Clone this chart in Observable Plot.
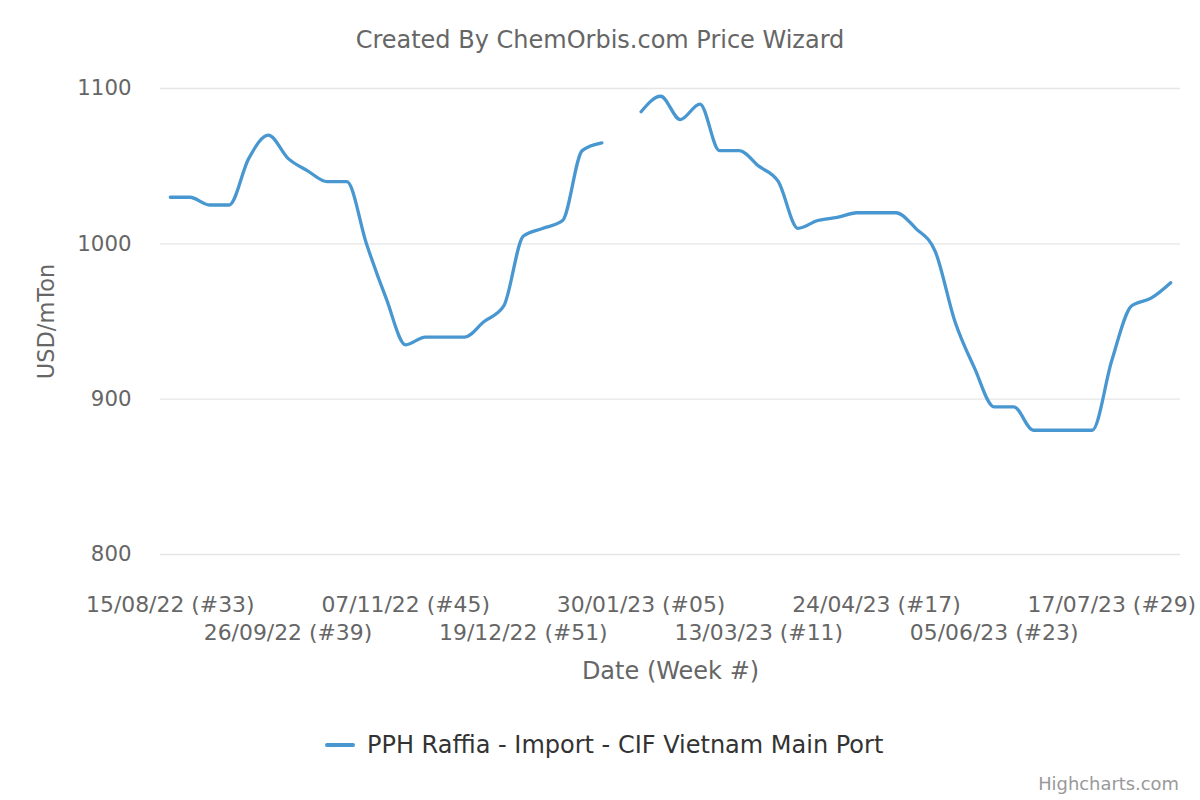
<!DOCTYPE html>
<html>
<head>
<meta charset="utf-8">
<script src="https://cdn.jsdelivr.net/npm/d3@7"></script>
<script src="https://cdn.jsdelivr.net/npm/@observablehq/plot@0.6"></script>
<style>
  html, body { margin: 0; padding: 0; background: #fff; }
  #wrap { position: relative; width: 1200px; height: 800px; font-family: "DejaVu Sans", sans-serif; overflow: hidden; }
  #title { position: absolute; left: 0; width: 1200px; top: 28px; line-height: 24px; font-size: 24px; color: #666; text-align: center; white-space: nowrap; }
  #chart { position: absolute; left: 0; top: 60px; }
  #legend { position: absolute; left: 325px; top: 733px; height: 24px; line-height: 24px; font-size: 24px; color: #333; white-space: nowrap; display: flex; align-items: center; }
  #legend .sym { display: inline-block; width: 30px; height: 4px; border-radius: 2px; background: #4897d0; margin-right: 12px; }
  #credits { position: absolute; right: 21px; top: 775px; line-height: 18px; font-size: 17.9px; color: #999; white-space: nowrap; }
</style>
</head>
<body>
<div id="wrap">
  <div id="title">Created By ChemOrbis.com Price Wizard</div>
  <div id="chart"></div>
  <div id="legend"><span class="sym"></span><span>PPH Raffia - Import - CIF Vietnam Main Port</span></div>
  <div id="credits">Highcharts.com</div>
</div>
<script>
// Weekly categories (Date (Week #))
const categories = [
  "15/08/22 (#33)", "22/08/22 (#34)", "29/08/22 (#35)", "05/09/22 (#36)", "12/09/22 (#37)", "19/09/22 (#38)",
  "26/09/22 (#39)", "03/10/22 (#40)", "10/10/22 (#41)", "17/10/22 (#42)", "24/10/22 (#43)", "31/10/22 (#44)",
  "07/11/22 (#45)", "14/11/22 (#46)", "21/11/22 (#47)", "28/11/22 (#48)", "05/12/22 (#49)", "12/12/22 (#50)",
  "19/12/22 (#51)", "26/12/22 (#52)", "02/01/23 (#01)", "09/01/23 (#02)", "16/01/23 (#03)", "23/01/23 (#04)",
  "30/01/23 (#05)", "06/02/23 (#06)", "13/02/23 (#07)", "20/02/23 (#08)", "27/02/23 (#09)", "06/03/23 (#10)",
  "13/03/23 (#11)", "20/03/23 (#12)", "27/03/23 (#13)", "03/04/23 (#14)", "10/04/23 (#15)", "17/04/23 (#16)",
  "24/04/23 (#17)", "01/05/23 (#18)", "08/05/23 (#19)", "15/05/23 (#20)", "22/05/23 (#21)", "29/05/23 (#22)",
  "05/06/23 (#23)", "12/06/23 (#24)", "19/06/23 (#25)", "26/06/23 (#26)", "03/07/23 (#27)", "10/07/23 (#28)",
  "17/07/23 (#29)", "24/07/23 (#30)", "31/07/23 (#31)", "07/08/23 (#32)"
];

// PPH Raffia - Import - CIF Vietnam Main Port (USD/mTon), null = no data
const prices = [
  1030, 1030, 1025, 1025, 1055, 1070, 1055, 1047, 1040, 1040, 1000, 965,
  935, 940, 940, 940, 950, 960, 1005, 1010, 1015, 1060, 1065, null,
  1085, 1095, 1080, 1090, 1060, 1060, 1050, 1040, 1010, 1015, 1017, 1020,
  1020, 1020, 1010, 995, 950, 920, 895, 895, 880, 880, 880, 880,
  925, 960, 965, 975
];

// Axis ticks
const yTicks = [800, 900, 1000, 1100];
const xTicksRow1 = ["15/08/22 (#33)", "07/11/22 (#45)", "30/01/23 (#05)", "24/04/23 (#17)", "17/07/23 (#29)"];
const xTicksRow2 = ["26/09/22 (#39)", "19/12/22 (#51)", "13/03/23 (#11)", "05/06/23 (#23)"];

const seriesName = "PPH Raffia - Import - CIF Vietnam Main Port";
const lineColor = "#4897d0";

const data = categories.map((c, i) => ({cat: c, price: prices[i]}));

const chart = Plot.plot({
  width: 1200,
  height: 640,
  marginTop: 28,
  marginBottom: 146,
  marginLeft: 160,
  marginRight: 20,
  style: {fontFamily: "DejaVu Sans, sans-serif", background: "white", overflow: "visible"},
  x: {type: "point", domain: categories, padding: 0.5},
  y: {domain: [800, 1100]},
  marks: [
    Plot.gridY(yTicks, {stroke: "#e6e6e6", strokeOpacity: 1, strokeWidth: 1.3}),
    Plot.axisY(yTicks, {tickSize: 0, tickPadding: 29, fontSize: 21.3, fill: "#666", label: null, tickFormat: d => String(d)}),
    Plot.axisX(xTicksRow1, {tickSize: 0, tickPadding: 42.4, fontSize: 21.9, fill: "#666", label: null}),
    Plot.axisX(xTicksRow2, {tickSize: 0, tickPadding: 70.4, fontSize: 21.9, fill: "#666", label: null}),
    Plot.line(data, {x: "cat", y: "price", stroke: lineColor, strokeWidth: 3.3, curve: "monotone-x"}),
    Plot.text(["Date (Week #)"], {frameAnchor: "bottom", lineAnchor: "middle", dy: 117, fontSize: 24, fill: "#666"}),
    Plot.text(["USD/mTon"], {frameAnchor: "left", textAnchor: "middle", lineAnchor: "middle", dx: -114, rotate: -90, fontSize: 22.5, fill: "#666"})
  ]
});
document.getElementById("chart").appendChild(chart);
</script>
</body>
</html>
